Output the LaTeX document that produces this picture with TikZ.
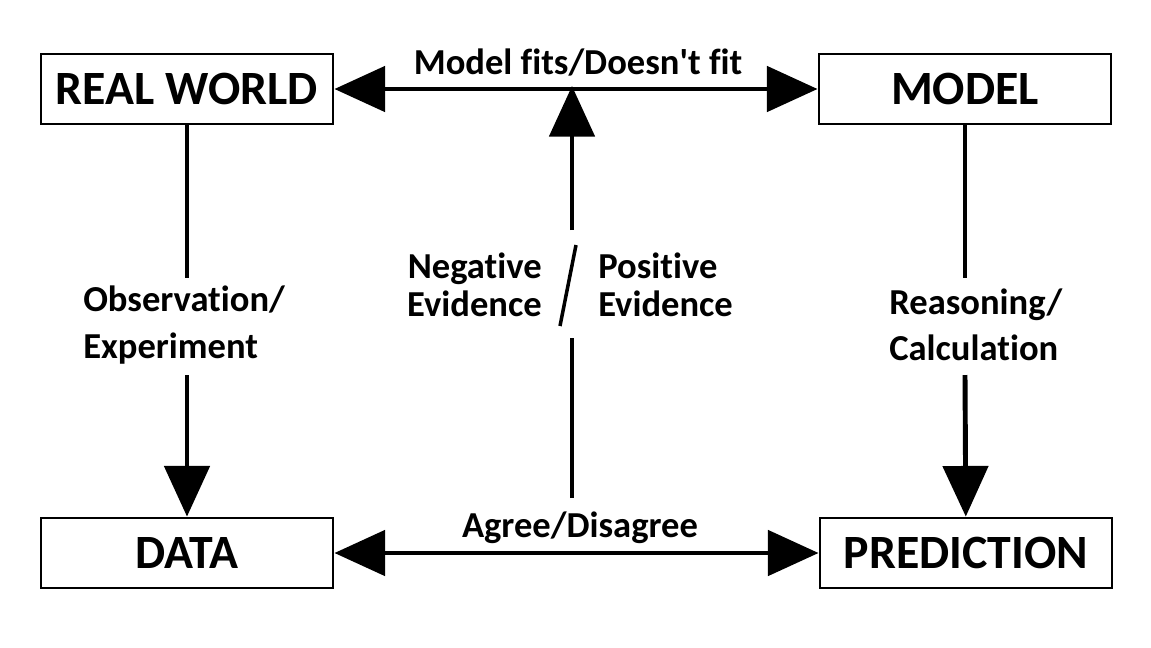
\documentclass[tikz,border=0pt]{standalone}
\usepackage{fontspec}
\setmainfont[Ligatures=NoCommon]{Carlito}
\usetikzlibrary{positioning,arrows.meta}

\begin{document}
\begin{tikzpicture}[
		x=0.025cm, y=-0.025cm,
		box/.style={
			draw,
			line width=2pt,
			minimum width=7.3cm,
			minimum height=1.75cm,
			inner sep=0pt,
			font=\fontsize{34}{38}\selectfont\bfseries,
		},
		lbl/.style={
			font=\fontsize{26}{28}\selectfont\bfseries,
			inner sep=0pt,
		},
		link/.style={line width=3.5pt},
		>={Triangle[width=32pt,length=36pt]}
		]
		\useasboundingbox (0,0) rectangle (1151,647);
		% Draw the four boxes
		\node [box] (world) at (187,89) {REAL WORLD};
		\node [box] (model) at (965,89) {MODEL};
		\node [box] (data) at (187,553) {DATA};
		\node [box] (pred) at (966,553) {PREDICTION};
		% Draw the horizontal links and labels
		\draw[link,<->] (world) -- (model);
		\node [lbl] (fits) at (578,62) {Model fits/Doesn\textquotesingle t fit};
		\draw[link,<->] (data) -- (pred);
		\node [lbl] (agree) at (580,528) {Agree/Disagree};
		% Draw the side links and labels
		\node [lbl,align=left,anchor=west] (obs) at (83,325) {Observation/\\[5pt]Experiment};
		\draw[link] (world) -- (187,278);
		\draw[link,->] (187,375) -- (data);
		\node [lbl,align=left,anchor=west] (reas) at (889,325) {Reasoning/\\[5pt]Calculation};
		\draw[link] (model) -- (965,278);
		\draw[link,->] (965,375) -- (pred);
		% Draw the evidence link
		\coordinate (evtop) at (572,86);
		\coordinate (evmid) at (572,230);
		\coordinate (evlow) at (572,338);
		\coordinate (evbot) at (572,498);
		\draw[link,->] (evmid) -- (evtop);
		\draw[link] (evbot) -- (evlow);
		\draw[line width=2.5pt] (576,245) -- (560,326);
		\node [lbl,align=right,anchor=east] (neg) at (542,285) {Negative\\[-1pt]Evidence};
		\node [lbl,align=left,anchor=west] (pos) at (598,285) {Positive\\[-1pt]Evidence};
	\end{tikzpicture}
\end{document}
